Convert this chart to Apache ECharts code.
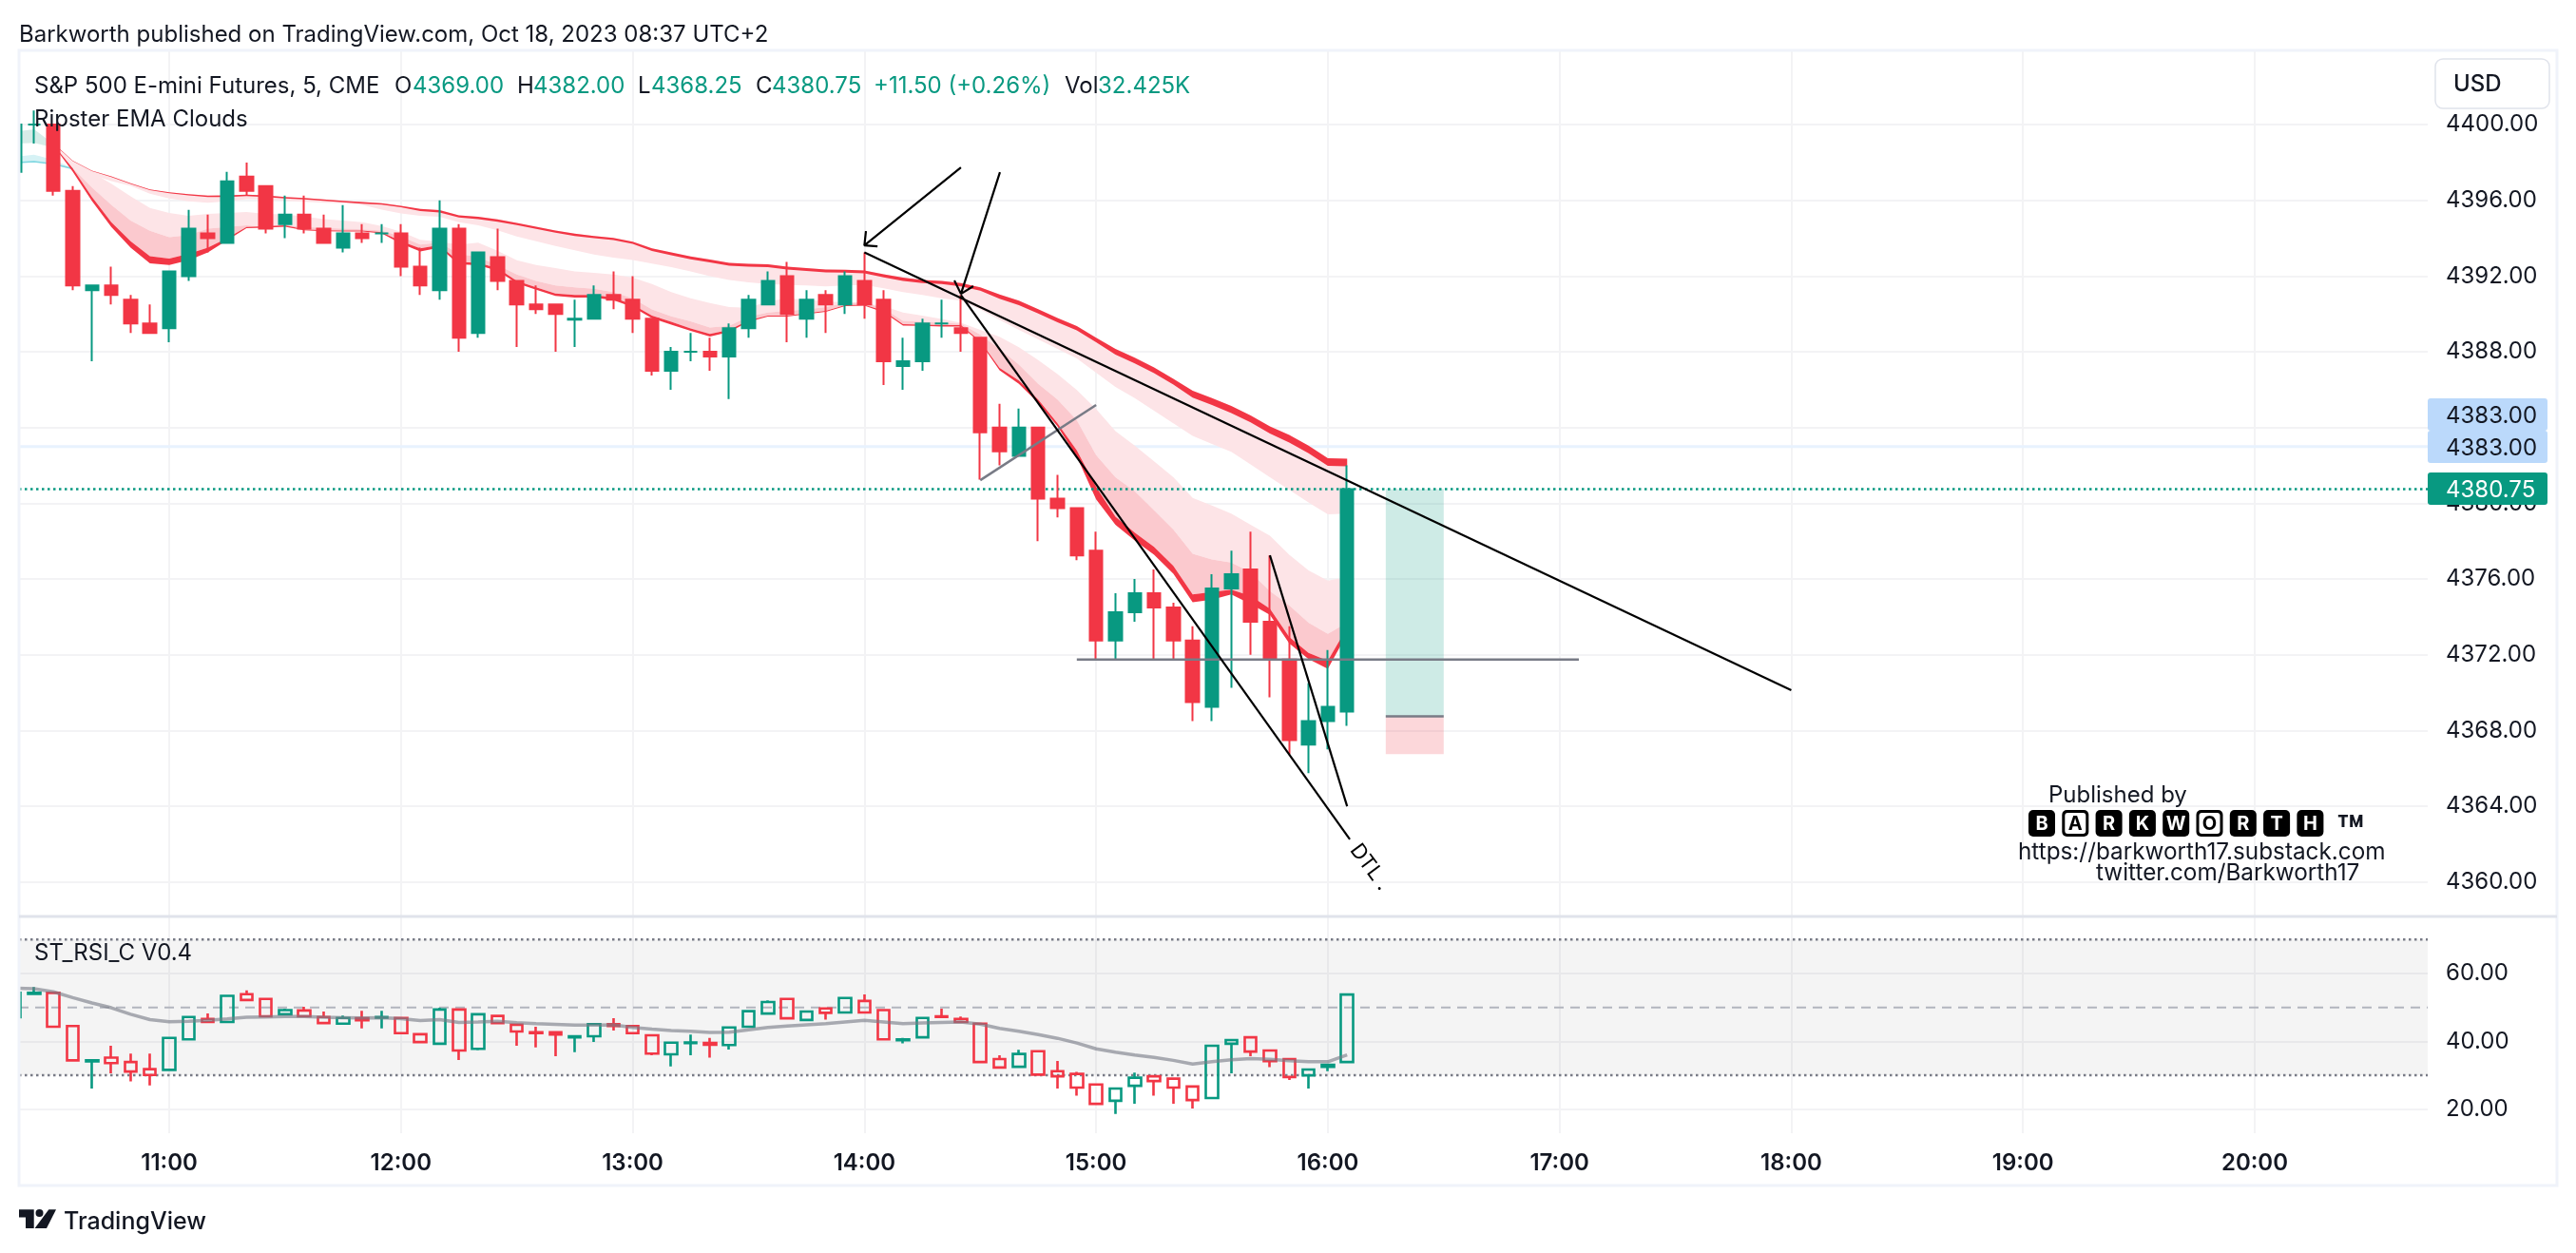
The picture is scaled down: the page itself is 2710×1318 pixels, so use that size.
<!DOCTYPE html>
<html>
<head>
<meta charset="UTF-8">
<title>ES1! 5m</title>
<script src="https://cdn.jsdelivr.net/npm/echarts@6/dist/echarts.min.js"></script>
<style>
  html, body { margin: 0; padding: 0; background: #fff; }
  #chart { width: 2710px; height: 1318px; }
</style>
</head>
<body>
<div id="chart"></div>
<script>
// candles, 5 minute bars from 10:20 to 16:05
var firstBar = 620, barStep = 5;
var opens = [4397.5,4400,4400,4396.5,4391.25,4391.5,4390.75,4389.5,4389.25,4392,
  4394.25,4393.75,4397.25,4396.75,4394.75,4395.25,4394.5,4393.5,4394.25,4394.25,
  4394.25,4392.5,4391.25,4394.5,4389,4393,4391.75,4390.5,4390.5,4389.7,
  4389.75,4391,4390.75,4389.75,4387,4388,4388,4387.75,4389.25,4390.5,
  4392,4389.75,4391,4390.5,4391.75,4390.75,4387.25,4387.5,4389.5,4389.25,
  4388.75,4384,4382.5,4384,4380.25,4379.75,4377.5,4372.75,4374.25,4375.25,
  4374.5,4372.75,4369.25,4375.5,4376.5,4373.75,4371.75,4367.25,4368.5,4369];
var closes = [4400,4400,4396.5,4391.5,4391.5,4391,4389.5,4389,4392.25,4394.5,
  4394,4397,4396.5,4394.5,4395.25,4394.5,4393.75,4394.25,4394,4394.25,
  4392.5,4391.5,4394.5,4388.75,4393.25,4391.75,4390.5,4390.25,4390,4389.75,
  4391,4390.75,4389.75,4387,4388,4388,4387.75,4389.25,4390.75,4391.75,
  4390,4390.75,4390.5,4392,4390.5,4387.5,4387.5,4389.5,4389.5,4389,
  4383.75,4382.75,4384,4380.25,4379.75,4377.25,4372.75,4374.25,4375.25,4374.5,
  4372.75,4369.5,4375.5,4376.25,4373.75,4371.75,4367.5,4368.5,4369.25,4380.75];
var highs = [4400,4400.75,4400,4396.75,4391.5,4392.5,4391,4390.5,4392.25,4395.5,
  4395.25,4397.5,4398,4396.75,4396.25,4396.25,4395.25,4395.75,4394.75,4394.75,
  4394.75,4393.5,4396,4394.75,4393.25,4394.5,4391.75,4391.5,4390.5,4390.75,
  4391.5,4392.25,4392,4389.75,4388.25,4389,4388.75,4389.5,4391,4392.25,
  4392.75,4391.25,4391.25,4392.25,4393.25,4391.25,4388.75,4389.75,4390.75,4391,
  4388.75,4385.25,4385,4384,4381.5,4379.75,4378.5,4375.25,4376,4376.5,
  4374.75,4373.5,4376.25,4377.5,4378.5,4377.25,4373.5,4370.5,4372.25,4382];
var lows = [4397.5,4399,4396.25,4391.25,4387.5,4390.5,4389,4389,4388.5,4391.75,
  4393.25,4393.75,4396.25,4394.25,4394,4394.25,4393.75,4393.25,4393.75,4393.75,
  4392,4391,4390.75,4388,4388.75,4391.25,4388.25,4390,4388,4388.25,
  4389.75,4390.25,4389,4386.75,4386,4387.5,4387,4385.5,4388.75,4390.5,
  4388.5,4388.75,4389,4390,4389.75,4386.25,4386,4387,4388.75,4388,
  4381.25,4382,4382.5,4378,4379.25,4377,4371.75,4371.75,4373.75,4371.75,
  4371.75,4368.5,4368.5,4370.25,4372,4369.75,4366.75,4365.75,4367,4368.25];

// EMA clouds. The red edges change thickness so each has two sides
var slowTop = [null,null,4399.02,4398.10,4397.57,4397.27,4396.90,4396.58,4396.43,4396.33,
  4396.25,4396.26,4396.30,4396.26,4396.18,4396.13,4396.05,4395.98,4395.91,4395.85,
  4395.71,4395.55,4395.48,4395.21,4395.13,4394.99,4394.81,4394.61,4394.41,4394.24,
  4394.12,4394.02,4393.82,4393.47,4393.25,4393.04,4392.87,4392.70,4392.65,4392.62,
  4392.50,4392.42,4392.35,4392.33,4392.30,4392.10,4391.92,4391.80,4391.75,4391.63,
  4391.40,4391.03,4390.70,4390.25,4389.79,4389.36,4388.74,4388.15,4387.69,4387.18,
  4386.57,4385.95,4385.56,4385.14,4384.64,4384.06,4383.61,4383.05,4382.38,4382.35];
var slowTopInner = [null,null,4398.99,4398.07,4397.54,4397.23,4396.86,4396.54,4396.38,4396.26,
  4396.18,4396.18,4396.22,4396.18,4396.10,4396.05,4395.97,4395.90,4395.83,4395.77,
  4395.63,4395.43,4395.36,4395.09,4395.01,4394.87,4394.69,4394.49,4394.29,4394.12,
  4394.00,4393.90,4393.70,4393.32,4393.10,4392.89,4392.72,4392.55,4392.50,4392.47,
  4392.35,4392.27,4392.20,4392.18,4392.15,4391.93,4391.75,4391.63,4391.58,4391.46,
  4391.23,4390.80,4390.47,4390.02,4389.56,4389.13,4388.51,4387.85,4387.39,4386.88,
  4386.27,4385.58,4385.19,4384.77,4384.27,4383.69,4383.21,4382.65,4381.98,4381.95];
var slowBottom = [null,null,4399.0,4398.02,4397.35,4397.02,4396.77,4396.35,4396.10,4395.95,
  4395.88,4395.95,4396.06,4396.05,4395.98,4395.93,4395.88,4395.85,4395.76,4395.51,
  4395.31,4395.18,4395.13,4394.84,4394.68,4394.42,4394.09,4393.84,4393.59,4393.36,
  4393.14,4392.98,4392.85,4392.66,4392.47,4392.25,4392.00,4391.80,4391.67,4391.58,
  4391.53,4391.50,4391.46,4391.50,4391.53,4391.36,4391.16,4391.00,4390.83,4390.70,
  4390.24,4389.69,4389.16,4388.66,4388.15,4387.65,4386.90,4386.15,4385.56,4384.89,
  4384.22,4383.56,4383.14,4382.72,4382.05,4381.38,4380.71,4380.04,4379.42,4379.46];
var fastTop = [null,null,4398.94,4398.02,4397.48,4396.88,4396.21,4395.60,4395.34,4395.18,
  4395.29,4395.34,4395.39,4395.29,4395.26,4395.14,4395.01,4394.93,4394.84,4394.64,
  4394.34,4393.92,4393.81,4393.67,4393.76,4393.34,4392.84,4392.59,4392.42,4392.25,
  4392.17,4392.08,4391.92,4391.58,4391.16,4390.83,4390.58,4390.36,4390.33,4390.66,
  4390.83,4390.75,4390.66,4390.61,4390.58,4390.41,4390.08,4389.91,4389.74,4389.53,
  4389.16,4388.79,4388.24,4387.57,4386.82,4385.98,4384.98,4383.81,4383.05,4382.22,
  4381.38,4380.29,4379.88,4379.46,4378.87,4378.29,4377.28,4376.45,4375.91,4376.11];
var fastMid = [null,null,4398.94,4397.69,4396.68,4395.76,4394.93,4394.39,4394.06,4394.17,
  4394.51,4394.59,4394.68,4394.59,4394.68,4394.59,4394.54,4394.51,4394.47,4394.41,
  4394.09,4393.67,4393.76,4393.17,4393.00,4392.59,4392.08,4391.75,4391.50,4391.41,
  4391.33,4391.16,4390.83,4390.24,4389.88,4389.61,4389.29,4389.37,4389.86,4390.08,
  4390.16,4390.24,4390.36,4390.58,4390.61,4390.29,4389.63,4389.58,4389.53,4389.49,
  4388.91,4388.15,4387.32,4386.31,4385.48,4384.39,4382.55,4381.38,4380.63,4379.63,
  4378.62,4377.33,4377.03,4376.87,4376.36,4375.36,4374.61,4373.69,4373.10,4373.69];
var fastLow = [null,null,4398.94,4397.69,4396.18,4394.84,4393.84,4393.05,4392.92,4393.17,
  4393.50,4394.01,4394.59,4394.63,4394.68,4394.47,4394.42,4394.41,4394.41,4394.32,
  4393.84,4393.47,4393.64,4392.75,4392.70,4392.42,4391.75,4391.41,4391.08,4391.00,
  4391.00,4390.86,4390.49,4389.91,4389.58,4389.24,4388.94,4389.16,4389.66,4389.91,
  4389.91,4390.04,4390.16,4390.46,4390.49,4390.16,4389.46,4389.44,4389.41,4389.41,
  4388.57,4387.15,4386.48,4385.48,4384.22,4382.80,4380.88,4379.29,4378.45,4377.70,
  4376.70,4375.19,4375.31,4375.44,4375.11,4374.44,4372.94,4372.10,4371.68,4373.44];
var fastLowOuter = [null,null,4398.90,4397.52,4395.96,4394.59,4393.50,4392.67,4392.59,4392.84,
  4393.25,4393.89,4394.53,4394.56,4394.61,4394.42,4394.37,4394.36,4394.36,4394.26,
  4393.71,4393.30,4393.50,4392.62,4392.57,4392.28,4391.62,4391.28,4390.95,4390.86,
  4390.86,4390.73,4390.36,4389.78,4389.44,4389.11,4388.81,4389.04,4389.59,4389.86,
  4389.86,4389.99,4390.11,4390.41,4390.44,4390.09,4389.39,4389.37,4389.34,4389.34,
  4388.49,4387.02,4386.31,4385.31,4384.06,4382.47,4380.21,4378.87,4378.04,4377.28,
  4376.28,4374.78,4374.91,4375.19,4374.69,4374.11,4372.60,4371.77,4371.26,4373.10];
// the first three bars of the clouds are still green
var tealTop = [4399.63,4399.75,4398.99], tealBottom = [4398.99,4399.04,4398.79];
var cyanTop = [4398.29,4398.41,4398.15,4397.70], cyanBottom = [4397.99,4398.04,4397.92,4397.67];

// lower pane
var rsiOpen = [47.1,54,54.3,44.5,34.1,35.2,33.9,31.8,31.6,40.6,
  46.6,45.7,53.9,52.5,48,49.1,47.2,45.2,46.8,47,
  46.9,42.1,39.3,49.4,37.8,47.5,44.9,42.7,42.7,41.2,
  41.5,45.1,44.5,41.8,36.2,39.5,39.5,38.9,44.3,48.2,
  52.5,46.3,49.7,48.5,51.9,49.2,40.3,41.2,47.4,46.6,
  45.2,34.8,32.5,37.1,31.2,30.4,27.3,22.5,26.9,29.7,
  29,26.7,23.3,39.3,41.2,37.3,34.8,30,32.5,33.9];
var rsiClose = [54.3,54.3,44.3,34.4,34.4,33.6,31.1,30.1,41,47.2,
  45.7,53.4,52.2,47.4,49.2,47.4,45.4,46.9,46.2,47.2,
  42.4,39.8,49.4,37.3,48,45.4,42.9,42.4,42,41.5,
  45.1,44.5,42.4,36.4,39.6,39.7,39,44.1,48.9,51.6,
  46.8,48.8,48.4,52.8,48.5,40.6,40.6,46.9,47.2,45.7,
  33.9,32.3,36.3,30.2,29.7,26.4,21.6,26.1,29.3,28.3,
  26.4,22.7,38.7,40.4,37,34.2,29.5,31.7,33.1,53.8];
var rsiHigh = [54.3,56,54.3,44.5,34.5,38.7,36.4,36.4,41,47.2,
  48.2,53.4,55,52.5,49.6,50.2,48.8,47.6,49,49,
  46.9,42.1,49.9,49.4,48,47.5,44.9,44.3,42.7,41.8,
  45.4,46.8,44.5,41.8,39.6,42,41,44.1,48.9,52.1,
  52.5,48.8,49.7,52.8,53.8,49.2,41,46.9,49.6,47.3,
  45.2,35.9,37.5,37.1,34.2,31,27.3,26.1,30.8,29.7,
  29,26.7,38.7,40.4,41.2,37.3,34.8,31.7,33.1,53.8];
var rsiLow = [47.1,53.9,44.3,34.4,26.1,30.6,28.2,27,31.6,40.6,
  45.5,45.7,52.2,47.4,48,47.4,45.4,45.2,43.8,43.8,
  42.4,39.8,39.3,34.5,37.4,45.4,38.7,38.2,35.6,36.8,
  39.8,43.2,42.4,35.9,32.6,35.9,35.2,37.6,44.3,48.2,
  46.8,46.3,46.4,48.5,48.5,40.6,39.4,41.2,47.2,45.7,
  33.9,32.3,32.5,30.2,26.1,24,21.6,18.6,21.6,24,
  21.6,20.2,23.3,30.6,35.6,32.4,28.6,26.1,31.2,33.9];
var rsiMa = [55.7,55.5,54.6,52.9,51.3,49.9,48,46.4,45.8,45.9,
  46.2,46.6,47.1,47.2,47.3,47.3,47.1,47,46.9,47,
  46.7,46.1,46.4,45.6,45.7,45.9,45.5,45.2,45,44.8,
  44.8,44.9,44.1,43.6,43.2,43,42.6,42.7,43.4,44.1,
  44.5,44.9,45.2,45.7,46.2,45.7,45.2,45.4,45.6,45.7,
  45.1,43.8,43,42,40.9,39.5,37.8,36.8,36,35.3,
  34.4,33.3,34,34.6,34.9,34.7,34.3,34,34,36];

// axes
var hourTicks = [660,720,780,840,900,960,1020,1080,1140,1200];
var priceTicks = [4360,4364,4368,4372,4376,4380,4384,4388,4392,4396,4400];
var rsiTicks = [20,40,60];
var rsiLevels = [70,50,30];
var lastPrice = 4380.75, alertPrice = 4383;

// drawings, x in minutes of the day
var trendLong = {x: [840,1080], y: [4393.25,4370.13]};
var trendDtl = {x: [865,965.7], y: [4391,4362.25]};
var trendShort = {x: [945,965], y: [4377.25,4364]};
var grayRise = {x: [870,900], y: [4381.22,4385.19]};
var grayFlat = {x: [895,1025], y: [4371.75,4371.75]};
var arrowOne = {x: [865,840,840.4,840,843.4], y: [4397.74,4393.62,4394.38,4393.62,4393.57]};
var arrowTwo = {x: [875.1,865,863.3,865,868.2], y: [4397.49,4391.06,4391.77,4391.06,4391.47]};
var boxX = [975,990];
var boxTarget = 4380.75, boxEntry = 4368.75, boxStop = 4366.75;

var UP = '#089981', DOWN = '#f23645', INK = '#131722', FONT = 'Inter, sans-serif';
var xMin = 621.1, xMax = 1244.8;
var left = 20, right = 2554, edge = 2690, top0 = 54, paneSplit = 964, paneEnd = 1192, frameEnd = 1247;

var barX = opens.map(function (v, i) { return firstBar + i * barStep; });

function candles(o, c, l, h, idx, fillUp, fillDown, width, stroke, z) {
  return {
    type: 'candlestick', xAxisIndex: idx, yAxisIndex: idx, barWidth: width, z: z, clip: true,
    itemStyle: {color: fillUp, color0: fillDown, borderColor: UP, borderColor0: DOWN, borderWidth: stroke},
    data: barX.map(function (x, i) { return [x, o[i], c[i], l[i], h[i]]; })
  };
}

// filled area between two lists, one polygon so no seams show
function band(xs, upper, lower, color, idx, z) {
  return {
    type: 'custom', xAxisIndex: idx, yAxisIndex: idx, silent: true, clip: true, z: z,
    encode: {x: 0, y: 1},
    data: [[xs[0], upper[upper.length - 1]]],
    renderItem: function (params, api) {
      var pts = [], i;
      for (i = 0; i < xs.length; i++) {
        if (upper[i] != null) pts.push(api.coord([xs[i], upper[i]]));
      }
      for (i = xs.length - 1; i >= 0; i--) {
        if (lower[i] != null) pts.push(api.coord([xs[i], lower[i]]));
      }
      return {type: 'polygon', shape: {points: pts}, style: {fill: color}};
    }
  };
}

function path(xs, ys, color, width, dash, idx, z) {
  return {
    type: 'line', xAxisIndex: idx, yAxisIndex: idx, silent: true, symbol: 'none', z: z, clip: true,
    lineStyle: {color: color, width: width, type: dash || 'solid'},
    data: xs.map(function (x, i) { return [x, ys[i]]; })
  };
}

function level(v, color, width, dash, idx, z) {
  return path([xMin, xMax], [v, v], color, width, dash, idx, z);
}

var series = [
  level(alertPrice, '#e8f2fe', 3, null, 0, 1),
  band(barX.slice(0, 3), tealTop, tealBottom, '#d6ece8', 0, 2),
  band(barX.slice(0, 4), cyanTop, cyanBottom, '#d6f2f5', 0, 2),
  path(barX.slice(0, 4), cyanBottom, '#7dd6e0', 1.5, null, 0, 2),
  band(barX, slowTop, slowBottom, '#fde4e7', 0, 2),
  band(barX, fastTop, fastMid, '#fde4e7', 0, 2),
  band(barX, fastMid, fastLow, '#fbc9ce', 0, 2),
  band(barX, slowTop, slowTopInner, DOWN, 0, 3),
  band(barX, fastLow, fastLowOuter, DOWN, 0, 3),
  level(lastPrice, UP, 2.5, [2.5, 3.5], 0, 3),
  candles(opens, closes, lows, highs, 0, UP, DOWN, 14, 2, 4),
  band(boxX, [boxTarget, boxTarget], [boxEntry, boxEntry], 'rgba(8,153,129,0.2)', 0, 5),
  band(boxX, [boxEntry, boxEntry], [boxStop, boxStop], 'rgba(242,54,69,0.2)', 0, 5),
  path(boxX, [boxEntry, boxEntry], '#787b86', 2.5, null, 0, 6),
  path(grayRise.x, grayRise.y, '#787b86', 2.5, null, 0, 6),
  path(grayFlat.x, grayFlat.y, '#787b86', 2.5, null, 0, 6),
  path(trendLong.x, trendLong.y, '#000', 2.2, null, 0, 7),
  path(trendDtl.x, trendDtl.y, '#000', 2.2, null, 0, 7),
  path(trendShort.x, trendShort.y, '#000', 2.2, null, 0, 7),
  path(arrowOne.x, arrowOne.y, '#000', 2.2, null, 0, 7),
  path(arrowTwo.x, arrowTwo.y, '#000', 2.2, null, 0, 7),

  band([xMin, xMax], [rsiLevels[0], rsiLevels[0]], [rsiLevels[2], rsiLevels[2]], 'rgba(0,0,0,0.045)', 1, 1),
  level(rsiLevels[0], '#787b86', 2.5, [2.5, 3.5], 1, 2),
  level(rsiLevels[1], '#b2b5be', 2, [10, 7], 1, 2),
  level(rsiLevels[2], '#787b86', 2.5, [2.5, 3.5], 1, 2),
  candles(rsiOpen, rsiClose, rsiLow, rsiHigh, 1, 'transparent', 'transparent', 13, 2.6, 3),
  path(barX, rsiMa, 'rgba(120,123,134,0.62)', 3.5, null, 1, 4)
];

function gridAxisX(idx, labels) {
  return {
    type: 'value', gridIndex: idx, min: xMin, max: xMax,
    axisLine: {show: false},
    axisTick: {show: false, customValues: hourTicks},
    splitLine: {show: true, lineStyle: {color: '#f3f3f5', width: 2}},
    axisLabel: {
      show: labels, customValues: hourTicks, margin: 20, color: INK,
      fontFamily: FONT, fontSize: 24, fontWeight: 600,
      formatter: function (v) { return Math.floor(v / 60) + ':00'; }
    }
  };
}

function gridAxisY(idx, min, max, ticks) {
  return {
    type: 'value', gridIndex: idx, position: 'right', min: min, max: max, scale: true,
    axisLine: {show: false},
    axisTick: {show: false, customValues: ticks},
    splitLine: {show: true, lineStyle: {color: '#f3f3f5', width: 2}},
    axisLabel: {
      customValues: ticks, margin: 19, color: INK, fontFamily: FONT, fontSize: 24,
      padding: [8, 0, 0, 0],
      formatter: function (v) { return v.toFixed(2); }
    }
  };
}

function label(x, y, text, color, size, weight) {
  return {
    type: 'text', x: x, y: y + 2, z: 100,
    style: {
      text: text, fill: color || INK, verticalAlign: 'middle', align: 'left',
      font: (weight || 400) + ' ' + (size || 24) + 'px ' + FONT
    }
  };
}

function box(x, y, w, h, fill, r, z) {
  return {type: 'rect', z: z || 99, shape: {x: x, y: y, width: w, height: h, r: r || 0}, style: {fill: fill}};
}

var keyLetters = ['B', 'A', 'R', 'K', 'W', 'O', 'R', 'T', 'H'];
var openKeys = {1: true, 5: true};

var graphics = [
  // candlesticks are not cut at the pane edge, so the left margin is covered
  box(0, top0, left, paneEnd - top0, '#fff', 0, 80),
  {type: 'rect', z: 90, shape: {x: left, y: 53, width: edge - left, height: frameEnd - 53}, style: {fill: 'none', stroke: '#f0f3fa', lineWidth: 3}},
  {type: 'line', z: 90, shape: {x1: left, y1: paneSplit, x2: edge, y2: paneSplit}, style: {stroke: '#e0e3eb', lineWidth: 3}},

  label(20, 35, 'Barkworth published on TradingView.com, Oct 18, 2023 08:37 UTC+2'),
  label(36, 89, 'S&P 500 E-mini Futures, 5, CME'),
  label(415, 89, 'O'), label(434, 89, '4369.00', UP),
  label(544, 89, 'H'), label(561, 89, '4382.00', UP),
  label(671, 89, 'L'), label(685, 89, '4368.25', UP),
  label(795, 89, 'C'), label(812, 89, '4380.75', UP),
  label(919, 89, '+11.50 (+0.26%)', UP),
  label(1120, 89, 'Vol'), label(1155, 89, '32.425K', UP),
  label(36, 124, 'Ripster EMA Clouds'),
  label(36, 1001, 'ST_RSI_C V0.4'),

  {type: 'rect', z: 99, shape: {x: 2562, y: 62, width: 120, height: 52, r: 8}, style: {fill: '#fff', stroke: '#e0e3eb', lineWidth: 1.5}},
  label(2581, 87, 'USD', INK, 24, 500),

  box(2554, 419, 126, 34, '#bbd9fb', 3),
  box(2554, 453, 126, 34, '#bbd9fb', 3),
  box(2554, 497, 126, 34, UP, 3),
  label(2573, 436, '4383.00'),
  label(2573, 470, '4383.00'),
  label(2573, 514, '4380.75', '#fff'),

  label(2155, 835, 'Published by', INK, 24),
  label(2458, 875, '™', INK, 46, 700),
  label(2123, 895, 'https://barkworth17.substack.com', INK, 24.3),
  label(2205, 917, 'twitter.com/Barkworth17', INK, 24.3),

  {
    type: 'text', x: 1441, y: 912, z: 100, rotation: -0.93,
    style: {text: 'DTL .', fill: '#000', align: 'center', verticalAlign: 'middle', font: '22px ' + FONT}
  },

  {type: 'polygon', z: 99, shape: {points: [[20, 1272.3], [35.7, 1272.3], [35.7, 1292], [27, 1292], [27, 1280.5], [20, 1280.5]]}, style: {fill: INK}},
  {type: 'circle', z: 99, shape: {cx: 41.5, cy: 1276, r: 4}, style: {fill: INK}},
  {type: 'polygon', z: 99, shape: {points: [[51.3, 1272.3], [59, 1272.3], [49, 1292], [36.6, 1292]]}, style: {fill: INK}},
  label(67, 1283, 'TradingView', INK, 25, 500)
];

keyLetters.forEach(function (ch, i) {
  var x = 2134 + i * 35.3;
  graphics.push(box(x, 852, 28, 28, '#000', 5));
  if (openKeys[i]) graphics.push(box(x + 3, 855, 22, 22, '#fff', 3, 100));
  graphics.push({
    type: 'text', x: x + 14, y: 867, z: 101,
    style: {text: ch, fill: openKeys[i] ? '#000' : '#fff', align: 'center', verticalAlign: 'middle', font: '700 20px ' + FONT}
  });
});

var chart = echarts.init(document.getElementById('chart'), null, {renderer: 'canvas'});
chart.setOption({
  animation: false,
  backgroundColor: '#fff',
  grid: [
    {left: left, top: top0, width: right - left, height: paneSplit - top0},
    {left: left, top: paneSplit, width: right - left, height: paneEnd - paneSplit}
  ],
  xAxis: [gridAxisX(0, false), gridAxisX(1, true)],
  yAxis: [gridAxisY(0, 4358.18, 4403.87, priceTicks), gridAxisY(1, 12.94, 76.8, rsiTicks)],
  series: series,
  graphic: graphics
});
</script>
</body>
</html>
